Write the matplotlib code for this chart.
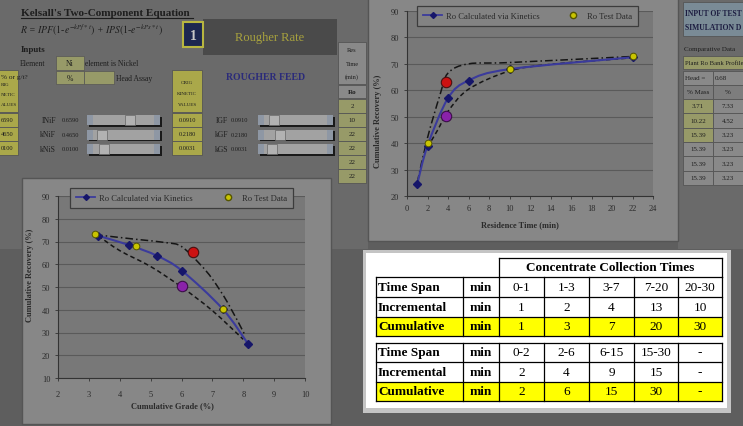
import matplotlib
matplotlib.use("Agg")
import matplotlib.pyplot as plt
from matplotlib.patches import Rectangle, PathPatch
from matplotlib.path import Path
from matplotlib.lines import Line2D
import numpy as np

plt.rcParams['font.family'] = ['Liberation Serif', 'DejaVu Serif']
plt.rcParams['mathtext.fontset'] = 'stix'

W, H = 743, 427

# ---------------- data: recovery vs residence time ----------------
time_calc = [1, 2, 4, 6, 10, 22]
rec_calc_t = [24.5, 39, 57, 63.7, 68, 72.5]
time_test = [2, 10, 22]
rec_test_t = [40, 68, 73]
time_upper = [1, 2, 3.2, 4, 6, 10, 22]
rec_upper_t = [25, 42, 58, 66.5, 70, 70.5, 72.8]
time_lower = [2, 3, 4, 6, 10, 14, 22]
rec_lower_t = [38.5, 45, 52, 60.4, 67.3, 69.8, 72.3]
time_red, rec_red_t = [3.8], [63.1]
time_purple, rec_purple_t = [3.8], [50.3]

# ---------------- data: recovery vs grade ----------------
grade_calc = [3.30, 4.29, 5.21, 6.01, 7.33, 8.16]
rec_calc_g = [72.5, 68.5, 63.7, 57.2, 40.4, 24.9]
grade_test = [3.21, 4.52, 7.33]
rec_test_g = [73.2, 68.1, 40.4]
grade_upper = [3.2, 4.5, 5.5, 6.0, 6.6, 7.0, 7.5, 8.05]
rec_upper_g = [73, 71, 69.5, 67.8, 60, 53.5, 43, 29]
grade_lower = [3.3, 4.0, 5.0, 6.0, 7.0, 8.0]
rec_lower_g = [72.5, 66, 59, 50, 39.6, 27]
grade_red, rec_red_g = [6.36], [65.2]
grade_purple, rec_purple_g = [6.0], [50.6]

legend_labels = ["Ro Calculated via Kinetics", "Ro Test Data"]

# ---------------- data: collection time table ----------------
table_title = "Concentrate Collection Times"
row_labels = ["Time Span", "Incremental", "Cumulative"]
unit = "min"
spans_1 = ["0-1", "1-3", "3-7", "7-20", "20-30"]
incr_1 = ["1", "2", "4", "13", "10"]
cum_1 = ["1", "3", "7", "20", "30"]
spans_2 = ["0-2", "2-6", "6-15", "15-30", "-"]
incr_2 = ["2", "4", "9", "15", "-"]
cum_2 = ["2", "6", "15", "30", "-"]

# ---------------- data: spreadsheet ----------------
left_params = ["INiF", "kNiF", "kNiS"]
left_values = ["0.6590", "0.4650", "0.0100"]
left_values_visible = ["6590", "4650", "0100"]      # column is cut by the screen edge
left_header_visible = ["RIG", "NETIC", "ALUES"]
left_thumb = [0.62, 0.08, 0.12]
mid_params = ["IGF", "kGF", "kGS"]
mid_values = ["0.0910", "0.2180", "0.0031"]
mid_thumb = [0.10, 0.20, 0.06]
res_times = ["2", "10", "22", "22", "22", "22"]
mass_pct = ["3.71", "10.22", "15.39", "15.39", "15.39", "15.39"]
grade_pct = ["7.33", "4.52", "3.23", "3.23", "3.23", "3.23"]

# ---------------- colours ----------------
C_BG = "#5e5e5e"
C_SHEET = "#6a6a6a"
C_PANEL = "#878787"
C_PLOT = "#787878"
C_GRID = "#5a5a5a"
C_YEL = "#aaa84a"
C_GRN = "#979a68"
C_CELL = "#898989"
NAVY = "#16166a"
LINE = "#3b3b9c"
YEL = "#c9c400"

fig = plt.figure(figsize=(W / 100, H / 100), dpi=100)
fig.patch.set_facecolor(C_BG)
bg = fig.add_axes([0, 0, 1, 1])
bg.set_xlim(0, W)
bg.set_ylim(H, 0)
bg.axis('off')


def rect(x0, y0, x1, y1, fc, ec='none', lw=0.8, z=1):
    bg.add_patch(Rectangle((x0, y0), x1 - x0, y1 - y0, facecolor=fc,
                           edgecolor=ec, linewidth=lw, zorder=z))


def txt(x, y, s, size=6, ha='left', va='center', color='#1e1e1e', weight='normal', z=5, **kw):
    bg.text(x, y, s, fontsize=size, ha=ha, va=va, color=color, fontweight=weight, zorder=z, **kw)


# ---------------- spreadsheet area ----------------
rect(0, 0, 368, 250, C_SHEET)
rect(678, 0, 743, 250, C_SHEET)
txt(21, 13, "Kelsall's Two-Component Equation", size=8, weight='bold')
bg.plot([21, 193], [18.5, 18.5], color='#1e1e1e', lw=0.8, zorder=5)
txt(20, 30, r"$R$ = $IPF(1$-$e^{-kPf*t})$ + $IPS(1$-$e^{-kPs*t})$", size=7,
    style='italic')
rect(183, 23, 203, 48, "#1c2750", ec="#b8b640", lw=1.5, z=3)
txt(193, 36, "1", size=10, ha='center', color="#c8c8c8", weight='bold')
rect(203, 20, 337, 56, "#4a4a4a", z=2)
txt(270, 38, "Rougher Rate", size=9, ha='center', color="#a8a23e")

txt(21, 50, "Inputs", size=6.5, weight='bold')
txt(20, 64, "Element", size=5.5)
rect(56, 57, 84, 71, C_GRN, ec="#555", lw=0.5, z=2)
txt(70, 64, "Ni", size=5.5, ha='center')
txt(85, 64, "element is Nickel", size=5.5)
txt(1, 77.5, "% or g/t?", size=5.2)
rect(56, 72, 84, 85, C_GRN, ec="#555", lw=0.5, z=2)
rect(84, 72, 114, 85, C_GRN, ec="#555", lw=0.5, z=2)
txt(70, 79, "%", size=5.5, ha='center')
txt(116, 79, "Head Assay", size=5.5)
txt(266, 78, "ROUGHER FEED", size=7, ha='center', color="#2b2b7a", weight='bold')

# left ORIG KINETIC VALUES column (cut by the screen edge)
rect(-12, 71, 18, 113, C_YEL, ec="#555", lw=0.6, z=2)
for i, s in enumerate(left_header_visible):
    txt(1, 85 + i * 10, s, size=3.6)
for i, v in enumerate(left_values_visible):
    y0 = 114 + i * 14
    rect(-12, y0, 18, y0 + 13.5, C_YEL, ec="#555", lw=0.6, z=2)
    txt(1, y0 + 7, v, size=4.6)

# middle ORIG KINETIC VALUES column
rect(172, 71, 202, 113, C_YEL, ec="#555", lw=0.6, z=2)
for i, s in enumerate(["ORIG", "KINETIC", "VALUES"]):
    txt(187, 83 + i * 11, s, size=3.6, ha='center')
for i, v in enumerate(mid_values):
    y0 = 114 + i * 14
    rect(172, y0, 202, y0 + 13.5, C_YEL, ec="#555", lw=0.6, z=2)
    txt(187, y0 + 7, v, size=4.6, ha='center')


def slider(x0, x1, yc, frac):
    y0, y1 = yc - 5, yc + 5
    rect(x0 + 1.5, y0 + 1.5, x1 + 1.5, y1 + 1.5, "#1a1a1a", z=2)
    rect(x0, y0, x1, y1, "#a2a2a2", z=3)
    rect(x0, y0, x0 + 6, y1, "#8e97a4", z=4)
    rect(x1 - 6, y0, x1, y1, "#8e97a4", z=4)
    tx = x0 + 6 + frac * (x1 - x0 - 22)
    rect(tx, y0, tx + 10, y1, "#b2b2b2", ec="#666", lw=0.5, z=4)


for i, (p, v, f) in enumerate(zip(left_params, left_values, left_thumb)):
    yc = 121 + i * 14.5
    txt(56, yc, p, size=5.5, ha='right')
    txt(62, yc, v, size=4.6)
    slider(87, 160, yc, f)
for i, (p, v, f) in enumerate(zip(mid_params, mid_values, mid_thumb)):
    yc = 121 + i * 14.5
    txt(228, yc, p, size=5.5, ha='right')
    txt(231, yc, v, size=4.6)
    slider(258, 333, yc, f)

# residence time column
rect(338, 43, 366, 85, C_CELL, ec="#555", lw=0.6, z=2)
for i, s in enumerate(["Res", "Time", "(min)"]):
    txt(352, 51 + i * 13, s, size=4.6, ha='center')
rect(338, 86, 366, 99, C_CELL, ec="#555", lw=0.6, z=2)
txt(352, 92.5, "Ro", size=5, ha='center', weight='bold')
for i, s in enumerate(res_times):
    y0 = 100 + i * 14
    rect(338, y0, 366, y0 + 13.5, C_GRN, ec="#555", lw=0.6, z=2)
    txt(352, y0 + 7, s, size=5, ha='center')

# right-hand input table
rect(683, 3, 746, 37, "#7a8b96", ec="#555", lw=0.6, z=2)
txt(685, 14, "INPUT OF TEST", size=5.5, weight='bold', color="#1c1c40")
txt(685, 28, "SIMULATION D", size=5.5, weight='bold', color="#1c1c40")
txt(684, 50, "Comparative Data", size=5)
rect(683, 57, 746, 70, C_GRN, ec="#555", lw=0.6, z=2)
txt(685, 63.5, "Plant Ro Bank Profile", size=4.8)
rect(683, 72, 713, 86, C_CELL, ec="#555", lw=0.6, z=2)
rect(713, 72, 746, 86, C_CELL, ec="#555", lw=0.6, z=2)
txt(685, 79, "Head =", size=5)
txt(715, 79, "0.68", size=5)
rect(683, 86, 713, 100, "#7d7d7d", ec="#555", lw=0.6, z=2)
rect(713, 86, 746, 100, "#7d7d7d", ec="#555", lw=0.6, z=2)
txt(698, 93, "% Mass", size=5, ha='center')
txt(728, 93, "%", size=5, ha='center')
for i, (m, g) in enumerate(zip(mass_pct, grade_pct)):
    y0 = 100 + i * 14.3
    rect(683, y0, 713, y0 + 14.3, C_GRN if i < 3 else C_CELL, ec="#555", lw=0.6, z=2)
    rect(713, y0, 746, y0 + 14.3, C_CELL, ec="#555", lw=0.6, z=2)
    txt(698, y0 + 7, m, size=5, ha='center')
    txt(728, y0 + 7, g, size=5, ha='center')

# chart panels
rect(368, -5, 678, 242, C_PANEL, ec="#555", lw=1, z=1)
rect(22, 179, 331, 425, C_PANEL, ec="#555", lw=1, z=1)


def pax(l, t, r, b):
    return fig.add_axes([l / W, 1 - b / H, (r - l) / W, (b - t) / H])


def smooth_path(xs, ys):
    pts = np.column_stack([xs, ys]).astype(float)
    verts = [pts[0]]
    codes = [Path.MOVETO]
    n = len(pts)
    for i in range(n - 1):
        p0 = pts[i - 1] if i > 0 else pts[i]
        p1, p2 = pts[i], pts[i + 1]
        p3 = pts[i + 2] if i + 2 < n else pts[i + 1]
        verts += [p1 + (p2 - p0) / 6, p2 - (p3 - p1) / 6, p2]
        codes += [Path.CURVE4] * 3
    return Path(verts, codes)


def draw_chart(ax, xc, yc, xt, yt, xu, yu, xl, yl, xr, yr, xp, yp):
    ax.set_facecolor(C_PLOT)
    ax.grid(axis='y', color=C_GRID, lw=0.8)
    ax.set_axisbelow(True)
    for s in ['top', 'right']:
        ax.spines[s].set_visible(False)
    for s in ['left', 'bottom']:
        ax.spines[s].set_color('#333333')
        ax.spines[s].set_linewidth(0.8)
    ax.tick_params(labelsize=6, length=2.5, width=0.6, colors='#333333',
                   labelcolor='#2a2a2a', pad=3)
    ax.add_patch(PathPatch(smooth_path(xu, yu), fill=False, ec='#151515', lw=1.1,
                           ls=(0, (5, 2, 1, 2)), zorder=3))
    ax.add_patch(PathPatch(smooth_path(xl, yl), fill=False, ec='#151515', lw=1.1,
                           ls=(0, (3, 2)), zorder=3))
    ax.add_patch(PathPatch(smooth_path(xc, yc), fill=False, ec=LINE, lw=1.5, zorder=4))
    ax.plot(xc, yc, ls='none', marker='D', ms=3.6, color=NAVY, zorder=5)
    ax.plot(xt, yt, ls='none', marker='o', ms=4.8, mfc=YEL, mec='#555500', mew=0.7, zorder=6)
    ax.plot(xr, yr, ls='none', marker='o', ms=7.5, mfc='#cc1111', mec='#4a1010', mew=0.8, zorder=6)
    ax.plot(xp, yp, ls='none', marker='o', ms=7.5, mfc='#8a22aa', mec='#3a0e48', mew=0.8, zorder=6)


def add_legend(ax, l, t, r, b):
    handles = [Line2D([], [], color=LINE, lw=1.3, marker='D', ms=3, mfc=NAVY, mec=NAVY),
               Line2D([], [], ls='none', marker='o', ms=4.5, mfc=YEL, mec='#555500')]
    leg = ax.legend(handles, legend_labels, ncol=2, loc='lower left', mode='expand',
                    bbox_to_anchor=(l / W, 1 - b / H, (r - l) / W, (b - t) / H),
                    bbox_transform=fig.transFigure, fontsize=6.2, frameon=True,
                    fancybox=False, borderpad=0.7, handlelength=2.2, handletextpad=0.5,
                    borderaxespad=0)
    fr = leg.get_frame()
    fr.set_facecolor('#838383')
    fr.set_edgecolor('#3c3c3c')
    fr.set_linewidth(0.9)
    fr.set_alpha(1)
    for t_ in leg.get_texts():
        t_.set_color('#2a2a2a')


# top-right chart
ax1 = pax(407, 12, 653, 197)
draw_chart(ax1, time_calc, rec_calc_t, time_test, rec_test_t, time_upper, rec_upper_t,
           time_lower, rec_lower_t, time_red, rec_red_t, time_purple, rec_purple_t)
ax1.set_xlim(0, 24)
ax1.set_ylim(20, 90)
ax1.set_xticks(range(0, 25, 2))
ax1.set_yticks(range(20, 91, 10))
add_legend(ax1, 417, 4, 638, 27)
txt(378, 121, "Cumulative Recovery (%)", size=6, ha='center', rotation=90,
    weight='bold', color='#2a2a2a')
txt(520, 225, "Residence Time (min)", size=6, ha='center', weight='bold', color='#2a2a2a')

# bottom-left chart
ax2 = pax(58, 197, 305, 379)
draw_chart(ax2, grade_calc, rec_calc_g, grade_test, rec_test_g, grade_upper, rec_upper_g,
           grade_lower, rec_lower_g, grade_red, rec_red_g, grade_purple, rec_purple_g)
ax2.set_xlim(2, 10)
ax2.set_ylim(10, 90)
ax2.set_xticks(range(2, 11))
ax2.set_yticks(range(10, 91, 10))
ax2.tick_params(axis='x', pad=6)
add_legend(ax2, 70, 189, 293, 209)
txt(30, 275, "Cumulative Recovery (%)", size=6, ha='center', rotation=90,
    weight='bold', color='#2a2a2a')
txt(172, 406, "Cumulative Grade (%)", size=6, ha='center', weight='bold', color='#2a2a2a')

# ---------------- collection time table ----------------
rect(363, 251, 731, 414, "#c4c4c4", z=1)
rect(366, 254, 727, 409, "white", z=1)
cols = [376, 463, 499, 544, 589, 634, 678, 722]


def table_block(y_rows, spans, incr, cum):
    rows = [spans, incr, cum]
    for ri, vals in enumerate(rows):
        y0, y1 = y_rows[ri], y_rows[ri + 1]
        if ri == 2:
            rect(cols[0], y0, cols[-1], y1, "#ffff00", z=2)
        yc = (y0 + y1) / 2
        txt(cols[0] + 2, yc, row_labels[ri], size=9.5, weight='bold', color='black')
        txt((cols[1] + cols[2]) / 2, yc, unit, size=9.5, ha='center', weight='bold', color='black')
        for ci, v in enumerate(vals):
            txt((cols[ci + 2] + cols[ci + 3]) / 2, yc, v, size=9.5, ha='center', color='black')
    for y in y_rows:
        bg.plot([cols[0], cols[-1]], [y, y], color='black', lw=0.9, zorder=4)
    for x in cols:
        bg.plot([x, x], [y_rows[0], y_rows[-1]], color='black', lw=0.9, zorder=4)


# header
bg.plot([cols[2], cols[-1]], [259, 259], color='black', lw=0.9, zorder=4)
bg.plot([cols[2], cols[2]], [259, 278], color='black', lw=0.9, zorder=4)
bg.plot([cols[-1], cols[-1]], [259, 278], color='black', lw=0.9, zorder=4)
txt((cols[2] + cols[-1]) / 2, 268.5, table_title, size=9.5, ha='center', weight='bold', color='black')
table_block([278, 298, 318, 337], spans_1, incr_1, cum_1)
table_block([344, 363, 383, 402], spans_2, incr_2, cum_2)

fig.savefig("out.png", dpi=100, facecolor=fig.get_facecolor())
